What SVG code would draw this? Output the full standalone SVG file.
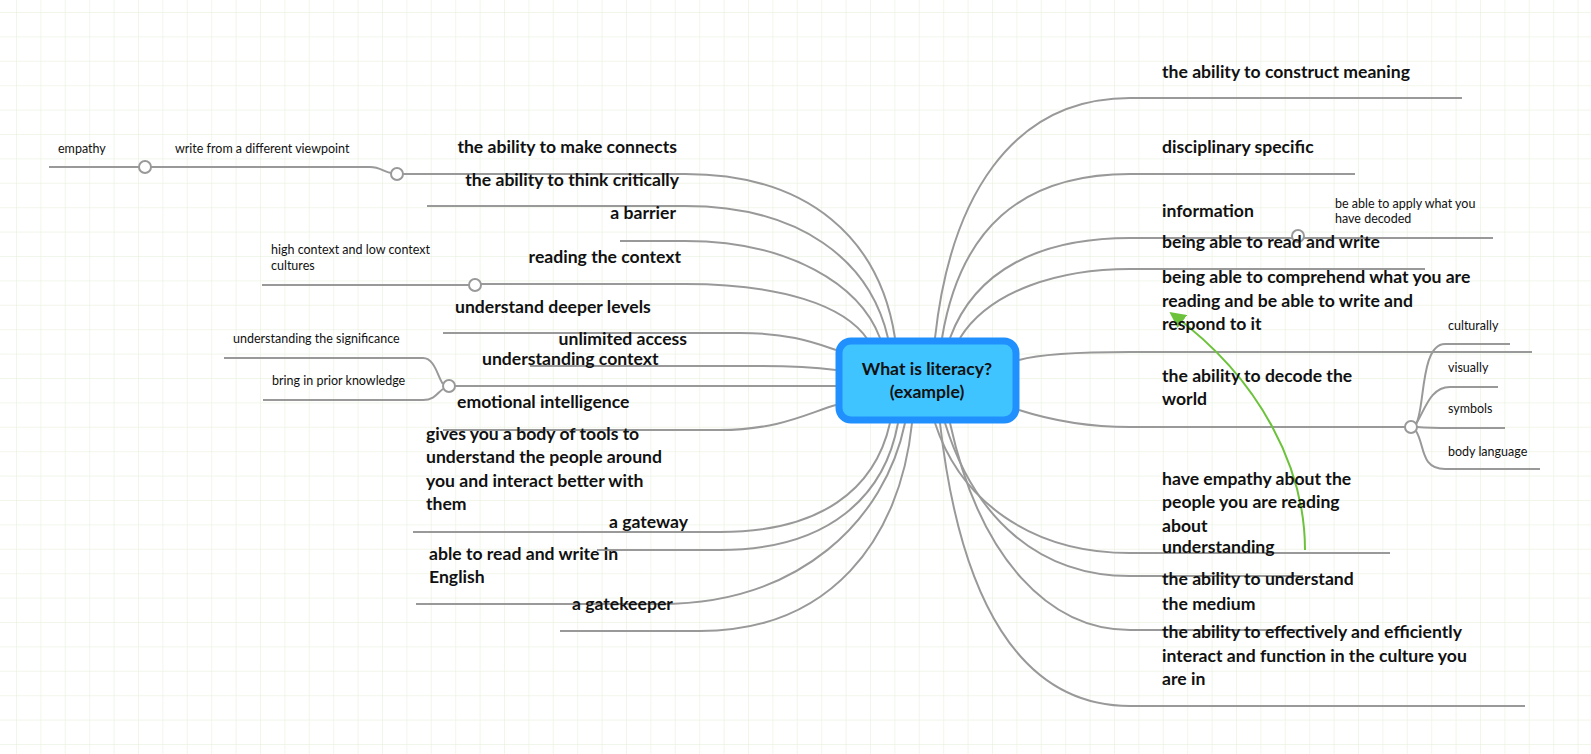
<svg xmlns="http://www.w3.org/2000/svg" width="1591" height="754" viewBox="0 0 1591 754">
<style>
.b{font-family:Lato,"Liberation Sans",sans-serif;font-weight:700;font-size:17.6px;fill:#111}
.s{font-family:Lato,"Liberation Sans",sans-serif;font-size:12.5px;fill:#111}
.l{fill:none;stroke:#999;stroke-width:2}
.c{fill:#fff;stroke:#999;stroke-width:2}
</style>
<defs>
<pattern id="g" width="24.4" height="24.4" patternUnits="userSpaceOnUse" x="16" y="12">
<path d="M0 0H24.4M0 0V24.4" fill="none" stroke="#e3eed8" stroke-width="1"/>
</pattern>
<marker id="ah" viewBox="0 0 10 10" refX="8" refY="5" markerWidth="8" markerHeight="8" orient="auto"><path d="M0 0L10 5L0 10z" fill="#6cc23a"/></marker>
</defs>
<rect width="1591" height="754" fill="#fff"/>
<rect width="1591" height="754" fill="url(#g)"/>
<g id="connectors">
<path class="l" d="M397 174H685C810 174 880 240 895 338"/>
<path class="l" d="M427 206H685C800 206 870 260 888 338"/>
<path class="l" d="M620 241H685C790 241 860 285 880 338"/>
<path class="l" d="M481 284H685C780 284 845 305 868 340"/>
<path class="l" d="M443 333H740C790 333 815 343 836 350"/>
<path class="l" d="M530 366H760C800 366 820 368 836 370"/>
<path class="l" d="M455 386H836"/>
<path class="l" d="M443 430H720C780 430 810 412 836 405"/>
<path class="l" d="M413 532H720C820 532 875 490 890 423"/>
<path class="l" d="M597 550H720C830 550 885 495 898 423"/>
<path class="l" d="M416 604H660C800 604 885 520 905 423"/>
<path class="l" d="M560 631H700C830 631 900 540 912 423"/>
<path class="l" d="M49 167H139"/>
<path class="l" d="M151 167H370C380 167 384 172 391 173"/>
<path class="l" d="M262 285H469"/>
<path class="l" d="M224 358H423C435 358 438 378 443 384"/>
<path class="l" d="M263 400H423C435 400 438 392 443 389"/>
<path class="l" d="M935 338C950 200 1010 98 1130 98H1462"/>
<path class="l" d="M942 338C960 230 1020 174 1130 174H1355"/>
<path class="l" d="M950 338C975 270 1040 238 1130 238H1292M1304 238H1493"/>
<path class="l" d="M960 338C990 290 1060 269 1130 269H1425"/>
<path class="l" d="M1019 360C1040 354 1080 352 1130 352H1532"/>
<path class="l" d="M1019 410C1050 420 1090 427 1130 427H1405"/>
<path class="l" d="M935 423C960 500 1030 553 1130 553H1390"/>
<path class="l" d="M945 423C975 520 1040 576 1130 576H1303"/>
<path class="l" d="M950 423C980 560 1050 630 1130 630H1310"/>
<path class="l" d="M940 423C960 600 1020 706 1130 706H1525"/>
<path class="l" d="M1416 424C1425 410 1420 344 1445 344H1510"/>
<path class="l" d="M1416 424C1425 410 1430 387 1450 387H1498"/>
<path class="l" d="M1417 427C1430 428 1440 428 1450 428H1505"/>
<path class="l" d="M1416 431C1425 445 1420 469 1445 469H1540"/>
<path fill="none" stroke="#6cc23a" stroke-width="2" marker-end="url(#ah)" d="M1305 550C1305 470 1262 380 1172 314"/>
</g>
<g id="subnodes">
<circle class="c" cx="145" cy="167" r="6"/>
<circle class="c" cx="397" cy="174" r="6"/>
<circle class="c" cx="475" cy="285" r="6"/>
<circle class="c" cx="449" cy="386" r="6"/>
<circle class="c" cx="1298" cy="236" r="6"/>
<circle class="c" cx="1411" cy="427" r="6"/>
</g>
<g id="center">
<rect x="839" y="341" width="177" height="79" rx="12" fill="#40c4ff" stroke="#2090ff" stroke-width="7"/>
<text class="b" x="927" y="375" text-anchor="middle" font-size="18.5">What is literacy?</text>
<text class="b" x="927" y="398" text-anchor="middle" font-size="18.5">(example)</text>
</g>
<g id="left-labels">
<text class="b" x="677" y="153" text-anchor="end">the ability to make connects</text>
<text class="b" x="679" y="186" text-anchor="end">the ability to think critically</text>
<text class="b" x="676" y="219" text-anchor="end">a barrier</text>
<text class="b" x="681" y="263" text-anchor="end">reading the context</text>
<text class="b" x="455" y="313">understand deeper levels</text>
<text class="b" x="687" y="345" text-anchor="end">unlimited access</text>
<text class="b" x="482" y="365">understanding context</text>
<text class="b" x="457" y="408">emotional intelligence</text>
<text class="b" x="426" y="440">gives you a body of tools to</text>
<text class="b" x="426" y="463">understand the people around</text>
<text class="b" x="426" y="487">you and interact better with</text>
<text class="b" x="426" y="510">them</text>
<text class="b" x="688" y="528" text-anchor="end">a gateway</text>
<text class="b" x="429" y="560">able to read and write in</text>
<text class="b" x="429" y="583">English</text>
<text class="b" x="572" y="610">a gatekeeper</text>
<text class="s" x="58" y="153">empathy</text>
<text class="s" x="175" y="153">write from a different viewpoint</text>
<text class="s" x="271" y="254">high context and low context</text>
<text class="s" x="271" y="270">cultures</text>
<text class="s" x="233" y="343">understanding the significance</text>
<text class="s" x="272" y="385">bring in prior knowledge</text>
</g>
<g id="right-labels">
<text class="b" x="1162" y="78">the ability to construct meaning</text>
<text class="b" x="1162" y="153">disciplinary specific</text>
<text class="b" x="1162" y="217">information</text>
<text class="b" x="1162" y="248">being able to read and write</text>
<text class="b" x="1162" y="283">being able to comprehend what you are</text>
<text class="b" x="1162" y="307">reading and be able to write and</text>
<text class="b" x="1162" y="330">respond to it</text>
<text class="b" x="1162" y="382">the ability to decode the</text>
<text class="b" x="1162" y="405">world</text>
<text class="b" x="1162" y="485">have empathy about the</text>
<text class="b" x="1162" y="508">people you are reading</text>
<text class="b" x="1162" y="532">about</text>
<text class="b" x="1162" y="553">understanding</text>
<text class="b" x="1162" y="585">the ability to understand</text>
<text class="b" x="1162" y="610">the medium</text>
<text class="b" x="1162" y="638">the ability to effectively and efficiently</text>
<text class="b" x="1162" y="662">interact and function in the culture you</text>
<text class="b" x="1162" y="685">are in</text>
<text class="s" x="1335" y="208">be able to apply what you</text>
<text class="s" x="1335" y="223">have decoded</text>
<text class="s" x="1448" y="330">culturally</text>
<text class="s" x="1448" y="372">visually</text>
<text class="s" x="1448" y="413">symbols</text>
<text class="s" x="1448" y="456">body language</text>
</g>
</svg>
